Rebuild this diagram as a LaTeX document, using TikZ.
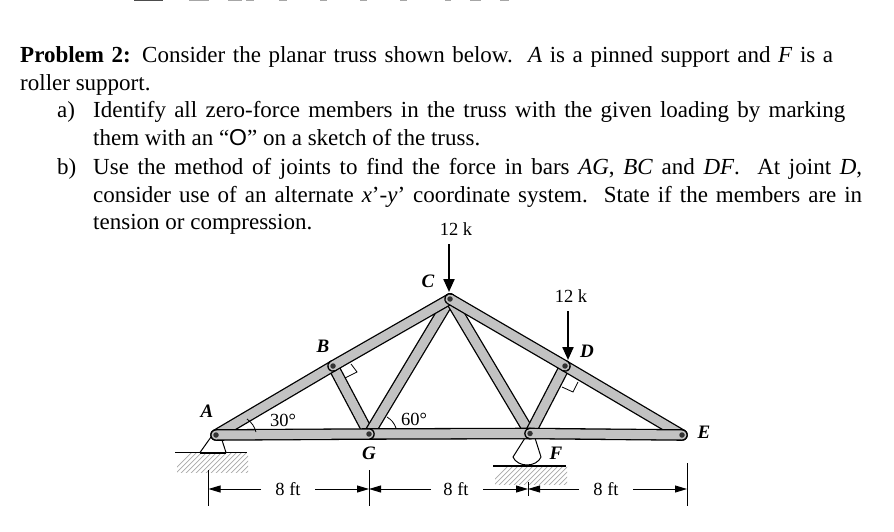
\documentclass[tikz,border=0pt]{standalone}
\usepackage{fontspec}
\setmainfont{Liberation Serif}
\newfontfamily\sansO{Liberation Sans}
\usetikzlibrary{arrows.meta}
\definecolor{barfill}{HTML}{C2C2C2}
\definecolor{hatchc}{HTML}{A8A8A8}
\tikzset{
  x=1pt,y=-1pt,
  member/.style={line width=1.3pt,double=barfill,double distance=9pt,line cap=round},
  pin/.style={circle,fill=black!80,inner sep=0pt,minimum size=5.5pt},
  txt/.style={anchor=base west,inner sep=0pt,font=\fontsize{23}{27}\selectfont},
  lbl/.style={inner sep=0pt,font=\fontsize{18.5}{22}\selectfont},
  jointlbl/.style={inner sep=0pt,font=\fontsize{19}{22}\selectfont\bfseries\itshape},
  load/.style={line width=2.2pt,-{Triangle[length=13pt,width=11pt]}},
  dimline/.style={line width=0.9pt,-{Triangle[length=12pt,width=7pt]}},
  tick/.style={line width=0.9pt},
  thin line/.style={line width=0.8pt},
  hatch/.style={line width=0.7pt,hatchc},
  ground/.style={line width=1.1pt}
}
\begin{document}
\begin{tikzpicture}
\useasboundingbox (0,0) rectangle (894,532);
\fill[white] (0,0) rectangle (894,532);
% remnant of the line cut at the top edge
\fill[black!70] (134,0) rectangle (163,1.2);
\foreach \xa/\xb in {178/215,255/282,292/305,358/372,440/452,520/532,600/612,690/700,740/760,800/815}
  {\fill[black!35] ({\xa*0.5+100},0) rectangle ({\xb*0.5+100+1},1.5);}
% text
\node[txt] (l1) at (20,63) {\makebox[813pt][s]{\textbf{Problem 2:} Consider the planar truss shown below.\ \ \textit{A} is a pinned support and \textit{F} is a}};
\node[txt] (l2) at (20,91) {roller support.};
\node[txt] (la) at (57,118) {a)};
\node[txt] (l3) at (93,118) {\makebox[752pt][s]{Identify all zero-force members in the truss with the given loading by marking}};
\node[txt] (l4) at (93,146) {them with an “{\sansO O}” on a sketch of the truss.};
\node[txt] (lb) at (57,174) {b)};
\node[txt] (l5) at (93,174) {\makebox[769pt][s]{Use the method of joints to find the force in bars \textit{AG}, \textit{BC} and \textit{DF}.\ \ At joint \textit{D},}};
\node[txt] (l6) at (93,202) {\makebox[769pt][s]{consider use of an alternate \textit{x}’-\textit{y}’ coordinate system.\ \ State if the members are in}};
\node[txt] (l7) at (93,229) {tension or compression.};
% joints
\coordinate (A) at (216,435);
\coordinate (B) at (333,366);
\coordinate (C) at (450,299);
\coordinate (D) at (565,366);
\coordinate (E) at (682,435);
\coordinate (F) at (530,433.5);
\coordinate (G) at (369,434);
% supports: hatching
\begin{scope}
  \clip (177,453) rectangle (248,472);
  \foreach \i in {0,5,...,100} {\draw[hatch] (170+\i,474) -- (194+\i,450);}
\end{scope}
\begin{scope}
  \clip (495,466) rectangle (567,484);
  \foreach \i in {0,5,...,100} {\draw[hatch] (488+\i,486) -- (512+\i,462);}
\end{scope}
\coordinate (g1a) at (175,452.7); \coordinate (g1b) at (247,452.7);
\coordinate (g2a) at (493,466); \coordinate (g2b) at (566,466);
\draw[ground] (g1a) -- (g1b);
\draw[ground] (g2a) -- (g2b);
\draw[line width=2pt] (200,452.5) -- (226,452.5);
\draw[line width=1pt] (211,437) -- (200,452.5);
\draw[line width=1pt] (221,437) -- (226,452.5);
\draw[line width=1pt,fill=white,line join=round] (525,438) -- (513,457)
   .. controls (515,462) and (521,465) .. (527,465)
   .. controls (533,465) and (539,462) .. (541,457) -- (535,438);
% right-angle marks
\draw[thin line] (351,364) -- (357,372) -- (345,378);
\draw[thin line] (578,382) -- (573,392) -- (562,387);
% members
\draw[member] (B) -- (G);
\draw[member] (C) -- (G);
\draw[member] (C) -- (F);
\draw[member] (D) -- (F);
\draw[member] (A) -- (B);
\draw[member] (D) -- (E);
\draw[member] (B) -- (C);
\draw[member] (C) -- (D);
\draw[member] (G) -- (F);
\draw[member] (A) -- (G);
\draw[member] (F) -- (E);
\foreach \j in {A,B,C,D,E,F,G} {\node[pin] (pin\j) at (\j) {};}
% angle arcs
\draw[thin line] (247,419) to[bend left=18] (256,432);
\draw[thin line] (387,417) to[bend left=18] (396,428);
\node[lbl] (a30) at (283,420) {30°};
\node[lbl] (a60) at (414,419) {60°};
% loads
\coordinate (lc) at (449,244); \coordinate (lce) at (449,292);
\coordinate (ld) at (568,311); \coordinate (lde) at (568,360);
\draw[load] (lc) -- (lce);
\draw[load] (ld) -- (lde);
\node[lbl] (k1) at (456,229) {12 k};
\node[lbl] (k2) at (571,296) {12 k};
% joint labels
\node[jointlbl] (tA) at (207,411) {A};
\node[jointlbl] (tB) at (323,346) {B};
\node[jointlbl] (tC) at (428,281) {C};
\node[jointlbl] (tD) at (587,351) {D};
\node[jointlbl] (tE) at (704,432) {E};
\node[jointlbl] (tF) at (556,453) {F};
\node[jointlbl] (tG) at (369,453) {G};
% dimensions
\coordinate (d1t) at (208.5,470); \coordinate (d1b) at (208.5,506);
\coordinate (d2t) at (369,470); \coordinate (d2b) at (369,506);
\coordinate (d3t) at (528,482); \coordinate (d3b) at (528,496);
\coordinate (d4t) at (687,463); \coordinate (d4b) at (687,506);
\draw[tick] (d1t) -- (d1b);
\draw[tick] (d2t) -- (d2b);
\draw[tick] (d3t) -- (d3b);
\draw[tick] (d4t) -- (d4b);
\node[lbl] (f1) at (288,489) {8 ft};
\node[lbl] (f2) at (456,489) {8 ft};
\node[lbl] (f3) at (606,489) {8 ft};
\coordinate (a1) at (261,489); \coordinate (a1e) at (208.5,489);
\coordinate (a2) at (315,489); \coordinate (a2e) at (369,489);
\coordinate (a3) at (431,489); \coordinate (a3e) at (369,489);
\coordinate (a4) at (483,489); \coordinate (a4e) at (528,489);
\coordinate (a5) at (579,489); \coordinate (a5e) at (528,489);
\coordinate (a6) at (633,489); \coordinate (a6e) at (687,489);
\draw[dimline] (a1) -- (a1e);
\draw[dimline] (a2) -- (a2e);
\draw[dimline] (a3) -- (a3e);
\draw[dimline] (a4) -- (a4e);
\draw[dimline] (a5) -- (a5e);
\draw[dimline] (a6) -- (a6e);
\end{tikzpicture}
\end{document}
